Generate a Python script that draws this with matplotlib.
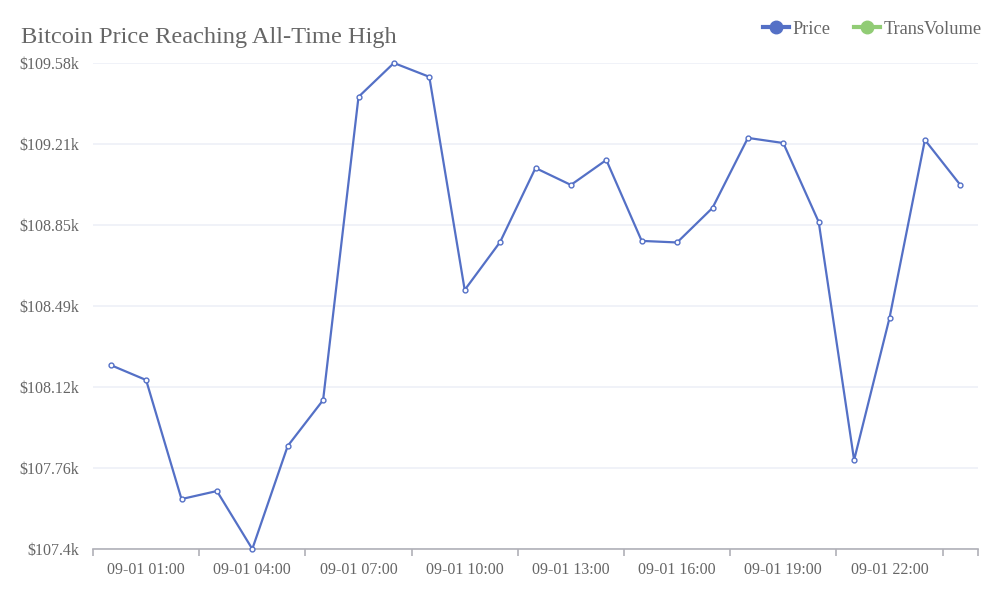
import math
import matplotlib
matplotlib.use("Agg")
import matplotlib.pyplot as plt
from matplotlib.lines import Line2D
from matplotlib.ticker import FixedLocator, FuncFormatter

# hourly timestamps, 09-01 00:00 through 09-02 00:00
hours = ["09-01 %02d:00" % h for h in range(24)] + ["09-02 00:00"]

# price in thousands of USD
price = [108.225, 108.158, 107.624, 107.660, 107.400, 107.862, 108.068, 109.428,
         109.580, 109.518, 108.562, 108.777, 109.109, 109.033, 109.145, 108.782,
         108.775, 108.930, 109.244, 109.221, 108.867, 107.799, 108.436, 109.235,
         109.033]

blue = "#5470c6"
green = "#91cc75"
txt = "#666666"

plt.rcParams["font.family"] = ["Liberation Serif", "DejaVu Serif"]

fig = plt.figure(figsize=(10, 6), dpi=100)
ax = fig.add_axes([0.093, 0.085, 0.885, 0.81])

x = list(range(len(hours)))
ax.plot(x, price, color=blue, lw=1.6, marker="o", ms=3.5, clip_on=False,
        markerfacecolor="white", markeredgecolor=blue, markeredgewidth=1, zorder=3)

ymin, ymax = min(price), max(price)
ax.set_ylim(ymin, ymax)
ax.set_xlim(-0.5, len(hours) - 0.5)

yt = [ymin + i * (ymax - ymin) / 6 for i in range(7)]
ax.set_yticks(yt)

def yfmt(v, pos):
    v = math.floor(v * 100 + 1e-6) / 100
    s = ("%.2f" % v).rstrip("0").rstrip(".")
    return "$" + s + "k"

ax.yaxis.set_major_formatter(FuncFormatter(yfmt))
ax.grid(axis="y", color="#edf0f7", lw=1.2)
ax.set_axisbelow(True)

lab_idx = list(range(1, len(hours), 3))
ax.set_xticks(lab_idx)
ax.set_xticklabels([hours[i] for i in lab_idx])
ax.xaxis.set_minor_locator(FixedLocator([i - 0.5 for i in range(0, len(hours), 3)] + [len(hours) - 0.5]))
ax.tick_params(axis="x", which="major", length=0, pad=9, labelsize=11.5, labelcolor=txt)
ax.tick_params(axis="x", which="minor", length=5, width=1.2, color="#b0b0b8")
ax.tick_params(axis="y", length=0, pad=10, labelsize=11.5, labelcolor=txt)

for s in ["top", "right", "left"]:
    ax.spines[s].set_visible(False)
ax.spines["bottom"].set_color("#b0b0b8")
ax.spines["bottom"].set_linewidth(1.2)

fig.text(0.021, 0.937, "Bitcoin Price Reaching All-Time High", fontsize=17.6,
         color=txt, va="center", ha="left")

handles = [Line2D([], [], color=blue, lw=3, marker="o", ms=9),
           Line2D([], [], color=green, lw=3, marker="o", ms=9)]
fig.legend(handles, ["Price", "TransVolume"], loc="center right",
           bbox_to_anchor=(0.998, 0.951), ncol=2, frameon=False, fontsize=13.2,
           labelcolor=txt, handlelength=1.4, handletextpad=0.2, columnspacing=1.3)

fig.savefig("out.png", dpi=100)
